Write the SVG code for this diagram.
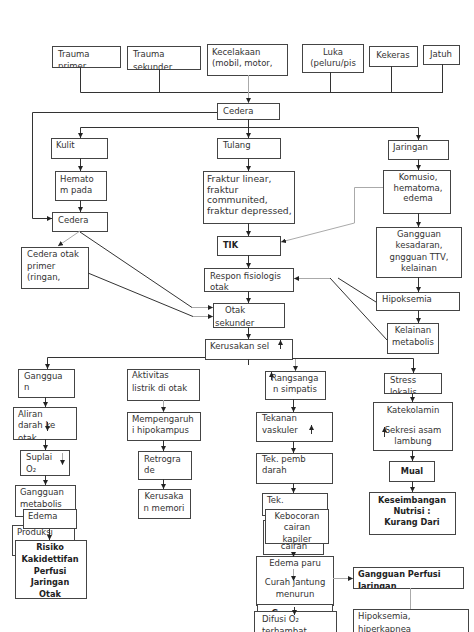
<svg xmlns="http://www.w3.org/2000/svg" width="474" height="632" viewBox="0 0 474 632">
<style>
.b{fill:#fff;stroke:#444;stroke-width:1}
.t{font-family:"DejaVu Sans",sans-serif;font-size:8.5px;fill:#333}
.c{text-anchor:middle}
.bd{font-weight:bold;font-size:8.2px;fill:#222}
.ln{fill:none;stroke:#333;stroke-width:1}
.lg{fill:none;stroke:#aaa;stroke-width:1}
</style>
<defs>
<marker id="ar" markerUnits="userSpaceOnUse" markerWidth="5" markerHeight="5" refX="5" refY="2.5" orient="auto"><path d="M0,0 L5,2.5 L0,5 z" fill="#222"/></marker>
<clipPath id="k1"><rect x="52" y="46" width="68" height="21"/></clipPath>
<clipPath id="k2"><rect x="127" y="46" width="73" height="23"/></clipPath>
<clipPath id="k3"><rect x="204" y="268" width="89" height="23"/></clipPath>
<clipPath id="k4"><rect x="213" y="303" width="71" height="24"/></clipPath>
<clipPath id="k5"><rect x="13" y="407" width="63" height="32"/></clipPath>
<clipPath id="k6"><rect x="384" y="373" width="57" height="20"/></clipPath>
<clipPath id="k7"><rect x="265" y="509" width="63" height="34"/></clipPath>
<clipPath id="k8"><rect x="353" y="567" width="110" height="21"/></clipPath>
<clipPath id="k9"><rect x="15" y="540" width="71" height="58"/></clipPath>
<clipPath id="k10"><rect x="257" y="604" width="76" height="7"/></clipPath>
<clipPath id="k11"><rect x="263" y="544" width="61" height="11"/></clipPath>
</defs>
<rect width="474" height="632" fill="#fff"/>

<g id="n-trauma-primer"><rect class="b" x="52.5" y="46.5" width="68" height="21"/><text class="t" x="58" y="57">Trauma</text><text class="t" x="58" y="69" clip-path="url(#k1)">primer</text></g>
<g id="n-trauma-sekunder"><rect class="b" x="127.5" y="46.5" width="73" height="23"/><text class="t" x="133" y="57">Trauma</text><text class="t" x="133" y="70" clip-path="url(#k2)">sekunder</text></g>
<g id="n-kecelakaan"><rect class="b" x="207.5" y="44.5" width="80" height="31"/><text class="t" x="212" y="55">Kecelakaan</text><text class="t" x="212" y="66">(mobil, motor,</text></g>
<g id="n-luka"><rect class="b" x="302.5" y="44.5" width="61" height="28"/><text class="t c" x="333" y="55">Luka</text><text class="t c" x="333" y="66">(peluru/pis</text></g>
<g id="n-kekeras"><rect class="b" x="369.5" y="46.5" width="48" height="20"/><text class="t c" x="393" y="58">Kekeras</text></g>
<g id="n-jatuh"><rect class="b" x="423.5" y="45.5" width="36" height="19"/><text class="t c" x="441" y="57">Jatuh</text></g>

<g id="n-cedera"><rect class="b" x="217.5" y="103.5" width="62" height="16"/><text class="t" x="223" y="114">Cedera</text></g>
<g id="n-kulit"><rect class="b" x="51.5" y="138.5" width="56" height="20"/><text class="t" x="56" y="148">Kulit</text></g>
<g id="n-tulang"><rect class="b" x="217.5" y="138.5" width="63" height="20"/><text class="t" x="223" y="148">Tulang</text></g>
<g id="n-jaringan"><rect class="b" x="388.5" y="140.5" width="60" height="19"/><text class="t" x="393" y="150">Jaringan</text></g>
<g id="n-hematom"><rect class="b" x="55.5" y="171.5" width="51" height="29"/><text class="t" x="60" y="182">Hemato</text><text class="t" x="60" y="193">m pada</text></g>
<g id="n-fraktur"><rect class="b" x="203.5" y="171.5" width="91" height="52"/><text class="t" style="font-size:9.2px" x="207" y="182">Fraktur linear,</text><text class="t" style="font-size:9.2px" x="207" y="192.5">fraktur</text><text class="t" style="font-size:9.2px" x="207" y="203">communited,</text><text class="t" style="font-size:9.2px" x="207" y="213.5">fraktur depressed,</text></g>
<g id="n-komusio"><rect class="b" x="383.5" y="170.5" width="67" height="43"/><text class="t c" x="418" y="180">Komusio,</text><text class="t c" x="418" y="190.5">hematoma,</text><text class="t c" x="418" y="201">edema</text></g>
<g id="n-cedera2"><rect class="b" x="52.5" y="212.5" width="55" height="19"/><text class="t" x="58" y="223">Cedera</text></g>
<g id="n-tik"><rect class="b" x="217.5" y="236.5" width="63" height="19"/><text class="t bd" x="223" y="248">TIK</text></g>
<g id="n-gangguan-kesadaran"><rect class="b" x="376.5" y="227.5" width="85" height="50"/><text class="t c" x="419" y="237">Gangguan</text><text class="t c" x="419" y="248">kesadaran,</text><text class="t c" x="419" y="259.5">gngguan TTV,</text><text class="t c" x="419" y="270.5">kelainan</text></g>
<g id="n-cedera-otak-primer"><rect class="b" x="21.5" y="247.5" width="67" height="41"/><text class="t" x="27" y="257">Cedera otak</text><text class="t" x="27" y="268.5">primer</text><text class="t" x="27" y="280">(ringan,</text></g>
<g id="n-respon"><rect class="b" x="204.5" y="268.5" width="89" height="23"/><text class="t" x="210" y="278.5">Respon fisiologis</text><text class="t" x="210" y="290" clip-path="url(#k3)">otak</text></g>
<g id="n-hipoksemia"><rect class="b" x="376.5" y="292.5" width="83" height="18"/><text class="t" x="382" y="302">Hipoksemia</text></g>
<g id="n-otak-sekunder"><rect class="b" x="213.5" y="303.5" width="71" height="24"/><text class="t" x="225" y="313">Otak</text><text class="t" x="215" y="326" clip-path="url(#k4)">sekunder</text></g>
<g id="n-kelainan-metabolis"><rect class="b" x="387.5" y="323.5" width="51" height="30"/><text class="t c" x="413" y="333">Kelainan</text><text class="t c" x="413" y="344.5">metabolis</text></g>
<g id="n-kerusakan-sel"><rect class="b" x="205.5" y="339.5" width="87" height="20"/><text class="t" x="210" y="349">Kerusakan sel</text></g>

<g id="n-gangguan"><rect class="b" x="18.5" y="369.5" width="56" height="28"/><text class="t" x="24" y="379">Ganggua</text><text class="t" x="24" y="390">n</text></g>
<g id="n-aliran"><rect class="b" x="13.5" y="407.5" width="63" height="32"/><text class="t" x="18" y="417">Aliran</text><text class="t" x="18" y="428">darah ke</text><text class="t" x="18" y="441" clip-path="url(#k5)">otak</text></g>
<g id="n-suplai"><rect class="b" x="20.5" y="450.5" width="49" height="25"/><text class="t" x="26" y="460">Suplai</text><text class="t" x="26" y="472">O₂</text></g>
<g id="n-gangguan-metabolis"><rect class="b" x="15.5" y="485.5" width="60" height="31"/><text class="t" x="20" y="495">Gangguan</text><text class="t" x="20" y="507">metabolis</text></g>
<g id="n-produksi"><rect class="b" x="12.5" y="525.5" width="62" height="30"/><text class="t" x="17" y="535">Produksi</text></g>
<g id="n-edema"><rect class="b" x="23.5" y="509.5" width="53" height="19"/><text class="t" x="28" y="519">Edema</text></g>
<g id="n-risiko"><rect class="b" x="15.5" y="540.5" width="71" height="58"/><text class="t c bd" x="50" y="550">Risiko</text><text class="t c bd" x="50" y="562">Kakidettifan</text><text class="t c bd" x="50" y="573.5">Perfusi</text><text class="t c bd" x="50" y="585">Jaringan</text><text class="t c bd" x="50" y="597" clip-path="url(#k9)">Otak</text></g>

<g id="n-aktivitas"><rect class="b" x="127.5" y="369.5" width="72" height="31"/><text class="t" x="132" y="378">Aktivitas</text><text class="t" x="132" y="391">listrik di otak</text></g>
<g id="n-mempengaruhi"><rect class="b" x="127.5" y="412.5" width="73" height="28"/><text class="t" x="132" y="422">Mempengaruh</text><text class="t" x="132" y="433">i hipokampus</text></g>
<g id="n-retrograde"><rect class="b" x="138.5" y="451.5" width="53" height="28"/><text class="t" x="144" y="462">Retrogra</text><text class="t" x="144" y="473">de</text></g>
<g id="n-kerusakan-memori"><rect class="b" x="138.5" y="489.5" width="52" height="29"/><text class="t c" x="164" y="499">Kerusaka</text><text class="t c" x="164" y="511">n memori</text></g>

<g id="n-rangsangan"><rect class="b" x="265.5" y="371.5" width="60" height="28"/><text class="t" x="271" y="381">Rangsanga</text><text class="t" x="273" y="392">n simpatis</text></g>
<g id="n-tekanan-vaskuler"><rect class="b" x="256.5" y="412.5" width="76" height="29"/><text class="t" x="262" y="421">Tekanan</text><text class="t" x="262" y="433">vaskuler</text></g>
<g id="n-tek-pemb"><rect class="b" x="256.5" y="453.5" width="76" height="30"/><text class="t" x="262" y="462">Tek. pemb</text><text class="t" x="262" y="473">darah</text></g>
<g id="n-tek"><rect class="b" x="262.5" y="493.5" width="65" height="22"/><text class="t" x="267" y="503">Tek.</text></g>
<g id="n-cairan"><rect class="b" x="263.5" y="520.5" width="60" height="34"/><text class="t c" x="294" y="549" clip-path="url(#k11)">cairan</text></g>
<g id="n-kebocoran"><rect class="b" x="265.5" y="509.5" width="63" height="34"/><text class="t c" x="297" y="518.5">Kebocoran</text><text class="t c" x="297" y="530">cairan</text><text class="t c" x="297" y="542" clip-path="url(#k7)">kapiler</text></g>
<g id="n-edema-paru"><rect class="b" x="256.5" y="556.5" width="77" height="49"/><text class="t c" x="295" y="566">Edema paru</text><text class="t c" x="295" y="585">Curah jantung</text><text class="t c" x="295" y="597">menurun</text></g>
<g id="n-gangguan-b"><rect class="b" x="257.5" y="604.5" width="75" height="20"/><text class="t c bd" x="295" y="616" clip-path="url(#k10)">Gangguan</text></g>
<g id="n-difusi"><rect class="b" x="254.5" y="611.5" width="82" height="30"/><text class="t" x="262" y="622">Difusi O₂</text><text class="t" x="262" y="634">terhambat</text></g>
<g id="n-gangguan-perfusi"><rect class="b" x="353.5" y="567.5" width="110" height="21"/><text class="t bd" x="358" y="576.5">Gangguan Perfusi</text><text class="t bd" x="358" y="589" clip-path="url(#k8)">Jaringan</text></g>
<g id="n-hipoksemia2"><rect class="b" x="353.5" y="609.5" width="115" height="30"/><text class="t" x="358" y="619">Hipoksemia,</text><text class="t" x="358" y="632">hiperkapnea</text></g>

<g id="n-stress"><rect class="b" x="384.5" y="373.5" width="57" height="20"/><text class="t" x="390" y="383">Stress</text><text class="t" x="390" y="395" clip-path="url(#k6)">lokalis</text></g>
<g id="n-katekolamin"><rect class="b" x="373.5" y="402.5" width="79" height="48"/><text class="t c" x="413" y="413">Katekolamin</text><text class="t c" x="413" y="433">Sekresi asam</text><text class="t c" x="413" y="444">lambung</text></g>
<g id="n-mual"><rect class="b" x="389.5" y="461.5" width="45" height="20"/><text class="t c bd" x="412" y="474">Mual</text></g>
<g id="n-keseimbangan"><rect class="b" x="369.5" y="492.5" width="86" height="42"/><text class="t c bd" x="412" y="502.5">Keseimbangan</text><text class="t c bd" x="412" y="513.5">Nutrisi :</text><text class="t c bd" x="412" y="525">Kurang Dari</text></g>

<g id="connectors">
<path class="ln" d="M80.5,67 V92.5 M159.5,69 V92.5 M80.5,92.5 H442.5 M330.5,72 V93 M391.5,66 V93 M442.5,64 V93"/>
<path class="lg" d="M248.5,75 V103" marker-end="url(#ar)"/>
<path class="ln" d="M217,112.5 H32.5 V218.5 H52" marker-end="url(#ar)"/>
<path class="ln" d="M248.5,119 V138" marker-end="url(#ar)"/>
<path class="ln" d="M80.5,127.5 H418.5 V140" marker-end="url(#ar)"/>
<path class="ln" d="M80.5,127.5 V138" marker-end="url(#ar)"/>
<path class="ln" d="M80.5,158 V171" marker-end="url(#ar)"/>
<path class="ln" d="M80.5,200 V212" marker-end="url(#ar)"/>
<path class="ln" d="M248.5,158 V171" marker-end="url(#ar)"/>
<path class="ln" d="M248.5,223 V236" marker-end="url(#ar)"/>
<path class="ln" d="M418.5,159 V170" marker-end="url(#ar)"/>
<path class="ln" d="M418.5,213 V227" marker-end="url(#ar)"/>
<path class="ln" d="M418.5,277 V292" marker-end="url(#ar)"/>
<path class="ln" d="M418.5,310 V323" marker-end="url(#ar)"/>
<path class="lg" d="M383,187.5 H354.5 V223 L281,242" marker-end="url(#ar)"/>
<path class="lg" d="M80,231 L58,246" marker-end="url(#ar)"/>
<path class="ln" d="M80,232 L192,307.5"/><path class="lg" d="M192,307.5 H213" marker-end="url(#ar)"/>
<path class="ln" d="M88,273 L193,316.5"/><path class="lg" d="M193,316.5 H213" marker-end="url(#ar)"/>
<path class="ln" d="M248.5,255 V268" marker-end="url(#ar)"/>
<path class="ln" d="M248.5,291 V303" marker-end="url(#ar)"/>
<path class="ln" d="M376,302 L338,278 M387,340 L330,278"/>
<path class="lg" d="M330,278.5 H294" marker-end="url(#ar)"/>
<path class="ln" d="M248.5,327 V339" marker-end="url(#ar)"/>
<path class="ln" d="M205,357.5 H47.5 V369" marker-end="url(#ar)"/>
<path class="ln" d="M292,358.5 H413.5 V373" marker-end="url(#ar)"/>
<path class="ln" d="M248.5,359 V365"/>
<path class="lg" d="M295.5,359 V371" marker-end="url(#ar)"/>
<path class="ln" d="M280.5,349 V340" marker-end="url(#ar)"/>
<path class="ln" d="M45.5,397 V407" marker-end="url(#ar)"/>
<path class="ln" d="M47.5,422 V431" marker-end="url(#ar)"/>
<path class="ln" d="M45.5,439 V450" marker-end="url(#ar)"/>
<path class="lg" d="M62.5,453 V465" marker-end="url(#ar)"/>
<path class="ln" d="M45.5,475 V485" marker-end="url(#ar)"/>
<path class="ln" d="M49.5,529 V540" marker-end="url(#ar)"/>
<path class="lg" d="M163.5,400 V412" marker-end="url(#ar)"/>
<path class="ln" d="M163.5,440 V451" marker-end="url(#ar)"/>
<path class="ln" d="M163.5,479 V489" marker-end="url(#ar)"/>
<path class="ln" d="M271.5,380 V372" marker-end="url(#ar)"/>
<path class="ln" d="M293.5,399 V412" marker-end="url(#ar)"/>
<path class="ln" d="M311.5,434 V425" marker-end="url(#ar)"/>
<path class="ln" d="M293.5,441 V453" marker-end="url(#ar)"/>
<path class="ln" d="M293.5,483 V493" marker-end="url(#ar)"/>
<path class="ln" d="M293.5,553 V557" marker-end="url(#ar)"/>
<path class="lg" d="M293.5,569 V581" marker-end="url(#ar)"/>
<path class="lg" d="M333,578.5 H353" marker-end="url(#ar)"/>
<path class="lg" d="M410.5,588 V609"/>
<path class="ln" d="M294.5,607 V615" marker-end="url(#ar)"/>
<path class="ln" d="M412.5,393 V402" marker-end="url(#ar)"/>
<path class="ln" d="M384.5,437 V427" marker-end="url(#ar)"/>
<path class="ln" d="M412.5,450 V461" marker-end="url(#ar)"/>
<path class="ln" d="M412.5,481 V492" marker-end="url(#ar)"/>
</g>
</svg>
